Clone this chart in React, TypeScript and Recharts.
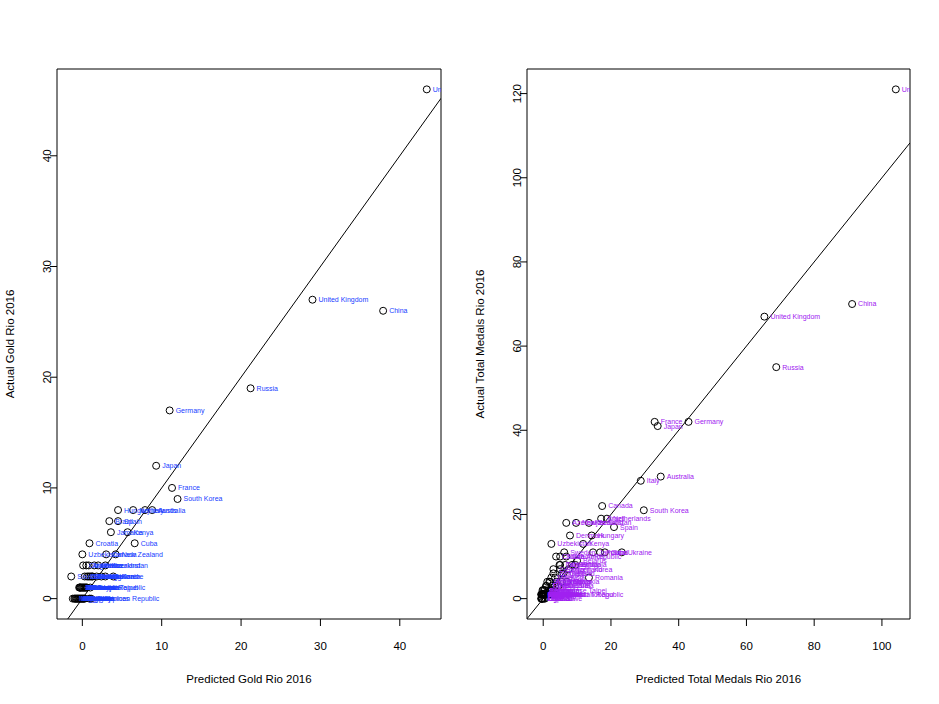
import { ScatterChart, Scatter, XAxis, YAxis, ReferenceLine, ReferenceArea, Label } from 'recharts'

// gold: predicted vs actual, Rio 2016
const goldCountries = [
  'United States', 'United Kingdom', 'China', 'Russia', 'Germany', 'Japan', 'France', 'South Korea',
  'Hungary', 'Netherlands', 'Italy', 'Australia', 'Brazil', 'Spain', 'Jamaica', 'Kenya', 'Croatia', 'Cuba',
  'Uzbekistan', 'Canada', 'New Zealand',
  'Colombia', 'Argentina', 'Iran', 'Greece', 'Switzerland', 'Kazakhstan',
  'South Africa', 'Denmark', 'Sweden', 'Slovakia', 'Poland', 'Georgia', 'Serbia', 'North Korea', 'Belgium', 'Thailand', 'Ukraine',
  'Azerbaijan', 'Belarus', 'Turkey', 'Armenia', 'Czech Republic', 'Ethiopia', 'Slovenia', 'Indonesia', 'Romania',
  'Bahrain', 'Vietnam', 'Chinese Taipei', 'Bahamas',
  'Malaysia', 'Mexico', 'Venezuela', 'Algeria', 'Ireland', 'Lithuania', 'Bulgaria', 'India', 'Mongolia',
  'Egypt', 'Norway', 'Tunisia', 'Israel', 'Austria', 'Estonia', 'Philippines', 'Dominican Republic',
]
const goldPredicted = [
  43.4, 29.0, 37.9, 21.2, 11.0, 9.3, 11.3, 12.0,
  4.5, 6.4, 7.9, 8.8, 3.4, 4.5, 3.6, 5.7, 0.9, 6.6,
  0.0, 3.0, 4.2,
  0.1, 0.5, 0.8, 1.5, 2.0, 2.9,
  -1.4, 0.3, 0.6, 0.8, 1.0, 1.2, 1.3, 1.8, 2.4, 2.9, 3.9,
  -0.3, 0.2, 0.0, -0.2, 1.0, 0.6, -0.1, 0.3, 0.4,
  -0.4, 0.1, 0.5, -0.3,
  -1.2, -1.0, -0.9, -0.8, -0.7, -0.6, -0.5, -0.4, -0.3,
  -0.2, -0.1, 0.0, 0.1, 0.2, 0.3, 0.9, 1.1,
]
const goldActual = [
  46, 27, 26, 19, 17, 12, 10, 9,
  8, 8, 8, 8, 7, 7, 6, 6, 5, 5,
  4, 4, 4,
  3, 3, 3, 3, 3, 3,
  2, 2, 2, 2, 2, 2, 2, 2, 2, 2, 2,
  1, 1, 1, 1, 1, 1, 1, 1, 1,
  1, 1, 1, 1,
  0, 0, 0, 0, 0, 0, 0, 0, 0,
  0, 0, 0, 0, 0, 0, 0, 0,
]
const goldTicks = [0, 10, 20, 30, 40]

// total medals: predicted vs actual
const totalCountries = [
  'United States', 'China', 'United Kingdom', 'Russia', 'Germany', 'France', 'Japan', 'Australia', 'Italy',
  'Canada', 'South Korea', 'Brazil', 'Netherlands', 'Azerbaijan', 'New Zealand', 'Kazakhstan', 'Spain',
  'Denmark', 'Hungary', 'Uzbekistan', 'Kenya',
  'Sweden', 'Jamaica', 'Poland', 'Cuba', 'Ukraine', 'Croatia', 'South Africa', 'Czech Republic', 'Belarus',
  'Serbia', 'Turkey', 'Iran', 'Colombia', 'Ethiopia', 'Switzerland', 'Georgia', 'North Korea',
  'Belgium', 'Thailand', 'Greece', 'Romania', 'Mexico', 'Malaysia',
  'Armenia', 'Slovakia', 'Argentina', 'Lithuania', 'Slovenia', 'Norway',
  'Egypt', 'Indonesia', 'Tunisia', 'Bulgaria', 'Venezuela',
  'India', 'Mongolia', 'Bahrain', 'Vietnam', 'Chinese Taipei', 'Ireland', 'Israel', 'Algeria',
  'Bahamas', 'Estonia', 'Finland', 'Morocco', 'Nigeria', 'Portugal', 'Dominican Republic', 'Philippines',
  'Trinidad and Tobago', 'Austria', 'Kosovo', 'Fiji', 'Jordan', 'Singapore', 'Tajikistan', 'Puerto Rico',
  'Ivory Coast', 'Qatar', 'Niger', 'Burundi', 'Grenada', 'Moldova',
  'Chile', 'Peru', 'Latvia', 'Cyprus', 'Uganda', 'Zimbabwe', 'Pakistan',
]
const totalPredicted = [
  104.1, 91.2, 65.3, 68.8, 42.9, 32.9, 33.8, 34.7, 28.8,
  17.4, 29.7, 17.1, 18.8, 6.8, 9.7, 13.5, 20.9,
  7.9, 14.3, 2.4, 11.8,
  6.2, 14.7, 16.8, 18.2, 23.2, 3.8, 5.0, 6.8, 10.0,
  8.5, 5.0, 4.8, 6.5, 9.5, 5.0, 3.0, 7.5,
  3.0, 5.5, 6.0, 13.5, 3.5, 2.4,
  2.0, 7.0, 1.8, 4.0, 1.2, 5.5,
  1.0, 2.5, 0.8, 4.5, 3.5,
  1.5, 0.5, 0.0, 2.0, 3.5, 0.3, 2.5, -0.2,
  -0.4, 0.8, 2.8, 0.4, 1.5, 1.8, 3.5, 0.0,
  0.2, 2.2, -0.3, -0.5, 0.1, -0.2, 0.6, -0.1,
  0.3, 0.0, -0.3, -0.4, -0.6, 1.0,
  -0.6, -0.4, 0.5, -0.2, -0.3, 0.2, -0.5,
]
const totalActual = [
  121, 70, 67, 55, 42, 42, 41, 29, 28,
  22, 21, 19, 19, 18, 18, 18, 17,
  15, 15, 13, 13,
  11, 11, 11, 11, 11, 10, 10, 10, 9,
  8, 8, 8, 8, 8, 7, 7, 7,
  6, 6, 6, 5, 5, 5,
  4, 4, 4, 4, 4, 4,
  3, 3, 3, 3, 3,
  2, 2, 2, 2, 2, 2, 2, 2,
  1, 1, 1, 1, 1, 1, 1, 1,
  1, 1, 1, 1, 1, 1, 1, 1,
  1, 1, 1, 1, 1, 1,
  0, 0, 0, 0, 0, 0, 0,
]
const totalTicksX = [0, 20, 40, 60, 80, 100]
const totalTicksY = [0, 20, 40, 60, 80, 100, 120]

const FONT = '"Liberation Sans", Arial, Helvetica, sans-serif'

// R style: pad the data range by 4% on each side
function rRange(v: number[]): [number, number] {
  const lo = Math.min(...v)
  const hi = Math.max(...v)
  const pad = (hi - lo) * 0.04
  return [lo - pad, hi + pad]
}

function Panel({ names, xs, ys, xTicks, yTicks, xTitle, yTitle, color, width }: any) {
  const data = names.map((n: string, i: number) => ({ name: n, x: xs[i], y: ys[i] }))
  const xd = rRange(xs)
  const yd = rRange(ys)

  return (
    <ScatterChart width={width} height={704} margin={{ top: 69, right: 29, bottom: 0, left: 0 }}>
      <ReferenceArea x1={xd[0]} x2={xd[1]} y1={yd[0]} y2={yd[1]} fill="none" fillOpacity={0} stroke="#000" strokeOpacity={1} />
      <XAxis
        type="number"
        dataKey="x"
        domain={xd}
        ticks={xTicks}
        interval={0}
        allowDataOverflow
        axisLine={false}
        tickLine={{ stroke: '#000' }}
        tickSize={7}
        tickMargin={0}
        height={85}
        tick={(p: any) => (
          <text x={p.x} y={p.y + 24} textAnchor="middle" fontSize={11.5} fontFamily={FONT} fill="#000">
            {p.payload.value}
          </text>
        )}
      >
        <Label
          content={(p: any) => (
            <text x={p.viewBox.x + p.viewBox.width / 2} y={p.viewBox.y + 64} textAnchor="middle" fontSize={11.5} fontFamily={FONT} fill="#000">
              {xTitle}
            </text>
          )}
        />
      </XAxis>
      <YAxis
        type="number"
        dataKey="y"
        domain={yd}
        ticks={yTicks}
        interval={0}
        allowDataOverflow
        axisLine={false}
        tickLine={{ stroke: '#000' }}
        tickSize={7}
        tickMargin={0}
        width={57}
        tick={(p: any) => (
          <text
            x={p.x + 1}
            y={p.y}
            transform={`rotate(-90 ${p.x + 1} ${p.y})`}
            textAnchor="middle"
            fontSize={11.5}
            fontFamily={FONT}
            fill="#000"
          >
            {p.payload.value}
          </text>
        )}
      >
        <Label
          content={(p: any) => {
            const cx = p.viewBox.x + 14
            const cy = p.viewBox.y + p.viewBox.height / 2
            return (
              <text x={cx} y={cy} transform={`rotate(-90 ${cx} ${cy})`} textAnchor="middle" fontSize={11.5} fontFamily={FONT} fill="#000">
                {yTitle}
              </text>
            )
          }}
        />
      </YAxis>
      <ReferenceLine
        segment={[{ x: xd[0], y: xd[0] }, { x: xd[1], y: xd[1] }]}
        stroke="#000"
        strokeWidth={1}
        ifOverflow="hidden"
      />
      <Scatter
        data={data}
        isAnimationActive={false}
        shape={(p: any) => <circle cx={p.cx} cy={p.cy} r={3.5} fill="none" stroke="#000" strokeWidth={1} />}
      />
      <Scatter
        data={data}
        isAnimationActive={false}
        shape={(p: any) => (
          <text x={p.cx + 6} y={p.cy} dy="0.35em" fontSize={7} fontFamily={FONT} fill={color}>
            {p.payload.name}
          </text>
        )}
      />
    </ScatterChart>
  )
}

export default function App() {
  return (
    <div style={{ position: 'absolute', left: 0, top: 0, width: 939, height: 704, display: 'flex', background: '#fff' }}>
      <Panel
        width={470}
        names={goldCountries}
        xs={goldPredicted}
        ys={goldActual}
        xTicks={goldTicks}
        yTicks={goldTicks}
        xTitle="Predicted Gold Rio 2016"
        yTitle="Actual Gold Rio 2016"
        color="#2040ff"
      />
      <Panel
        width={469}
        names={totalCountries}
        xs={totalPredicted}
        ys={totalActual}
        xTicks={totalTicksX}
        yTicks={totalTicksY}
        xTitle="Predicted Total Medals Rio 2016"
        yTitle="Actual Total Medals Rio 2016"
        color="#a020f0"
      />
    </div>
  )
}
